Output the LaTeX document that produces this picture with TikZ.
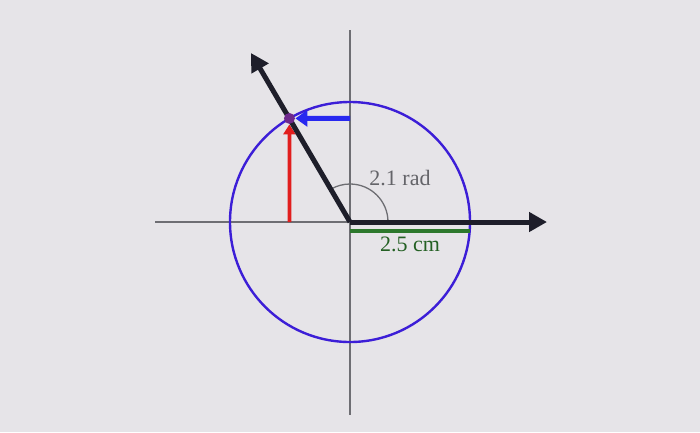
\documentclass[tikz,border=0pt]{standalone}
\usepackage{fontspec}
\setmainfont{Liberation Serif}
\usetikzlibrary{arrows.meta,calc}
\definecolor{bg}{RGB}{230,228,232}
\definecolor{axisgray}{RGB}{110,110,115}
\definecolor{vecblack}{RGB}{30,30,42}
\definecolor{circblue}{RGB}{60,30,215}
\definecolor{vred}{RGB}{225,30,30}
\definecolor{vblue}{RGB}{40,40,240}
\definecolor{dotpurple}{RGB}{110,40,140}
\definecolor{lgreen}{RGB}{45,120,45}
\definecolor{txtgray}{RGB}{100,100,105}
\begin{document}
\begin{tikzpicture}[x=1pt,y=-1pt,
  axis/.style={draw=axisgray,line width=1.6pt},
  vec/.style={draw=vecblack,line width=5pt,-{Triangle[length=18pt,width=19pt]}},
  lbl/.style={font=\fontsize{22}{25}\selectfont}]
\fill[bg] (0,0) rectangle (700,432);
\useasboundingbox (0,0) rectangle (700,432);
\coordinate (O) at (350,222);
\coordinate (xl) at (155,222);
\coordinate (xr) at (470,222);
\coordinate (yt) at (350,30);
\coordinate (yb) at (350,415);
\coordinate (P) at ($(O)+(-120.32:120)$);
% axes
\draw[axis] (xl) -- (xr);
\draw[axis] (yt) -- (yb);
% circle
\draw[circblue,line width=2.4pt] (O) circle[radius=120];
% angle arc
\draw[axisgray,line width=1.3pt] ($(O)+(38,0)$) arc[start angle=0,end angle=-120.3,radius=38];
% green radius
\coordinate (g1) at (350,231);
\coordinate (g2) at (470,231);
\draw[lgreen,line width=3.5pt] (g1) -- (g2);
% vectors
\coordinate (Pfoot) at (289.4,222);
\coordinate (Pside) at (350,118.4);
\draw[vred,line width=3.8pt,-{Triangle[length=10pt,width=12pt]}] (Pfoot) -- ($(P)+(0,6)$);
\draw[vblue,line width=5pt,-{Triangle[length=12pt,width=16pt]}] (Pside) -- ($(P)+(6,0)$);
\draw[vec] (O) -- (547,222);
\draw[vec] (O) -- ($(O)+(-99,-169)$);
\fill[dotpurple] (P) circle[radius=5.5];
% labels
\node[lbl,text=txtgray] (ang) at (400,178) {2.1 rad};
\node[lbl,text=lgreen!80!black] (len) at (410,244) {2.5 cm};
\end{tikzpicture}
\end{document}
